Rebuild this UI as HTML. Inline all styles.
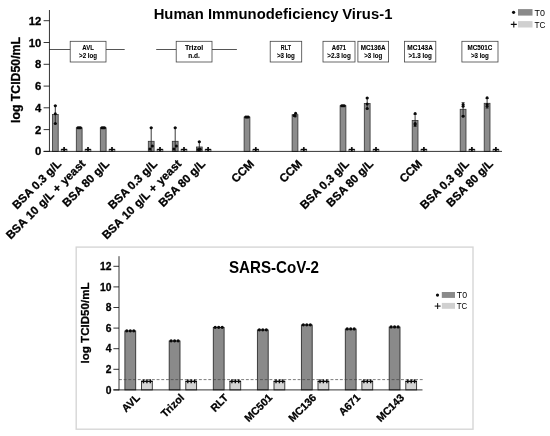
<!DOCTYPE html>
<html><head><meta charset="utf-8"><title>Figure</title>
<style>
html,body{margin:0;padding:0;background:#fff;}
svg{display:block;}
text{font-family:"Liberation Sans", sans-serif;fill:#000;}
.b{font-weight:bold;}
.e{stroke:#000;stroke-width:0.3px;}
.e2{stroke:#000;stroke-width:0.1px;}
</style></head><body>
<svg width="550" height="436" viewBox="0 0 550 436">
<rect x="0" y="0" width="550" height="436" fill="#ffffff"/>
<g id="hiv">
<text class="b" y="18.6" font-size="14.8"><tspan x="153.7">Human</tspan> <tspan x="207.9" letter-spacing="0.05">Immunodeficiency</tspan> <tspan x="342.2" letter-spacing="0.06">Virus-1</tspan></text>
<text class="b e" transform="translate(20.4,123) rotate(-90)" font-size="12.3" textLength="86" lengthAdjust="spacingAndGlyphs">log TCID50/mL</text>
<line x1="43.6" y1="151.4" x2="49.5" y2="151.4" stroke="#111" stroke-width="0.85"/>
<text class="b e" x="41.3" y="155.4" font-size="11.3" text-anchor="end">0</text>
<line x1="43.6" y1="129.6" x2="49.5" y2="129.6" stroke="#111" stroke-width="0.85"/>
<text class="b e" x="41.3" y="133.6" font-size="11.3" text-anchor="end">2</text>
<line x1="43.6" y1="107.8" x2="49.5" y2="107.8" stroke="#111" stroke-width="0.85"/>
<text class="b e" x="41.3" y="111.8" font-size="11.3" text-anchor="end">4</text>
<line x1="43.6" y1="86.1" x2="49.5" y2="86.1" stroke="#111" stroke-width="0.85"/>
<text class="b e" x="41.3" y="90.1" font-size="11.3" text-anchor="end">6</text>
<line x1="43.6" y1="64.3" x2="49.5" y2="64.3" stroke="#111" stroke-width="0.85"/>
<text class="b e" x="41.3" y="68.3" font-size="11.3" text-anchor="end">8</text>
<line x1="43.6" y1="42.5" x2="49.5" y2="42.5" stroke="#111" stroke-width="0.85"/>
<text class="b e" x="41.3" y="46.5" font-size="11.3" text-anchor="end">10</text>
<line x1="43.6" y1="20.7" x2="49.5" y2="20.7" stroke="#111" stroke-width="0.85"/>
<text class="b e" x="41.3" y="24.7" font-size="11.3" text-anchor="end">12</text>
<line x1="49.2" y1="49.5" x2="124.7" y2="49.5" stroke="#2a2a2a" stroke-width="0.8"/>
<rect x="70.2" y="41.3" width="35.8" height="20.7" fill="#fff" stroke="#444" stroke-width="0.8"/>
<text class="b e2" x="88.1" y="49.9" font-size="6.8" text-anchor="middle" textLength="11.6" lengthAdjust="spacingAndGlyphs">AVL</text>
<text class="b e2" x="88.1" y="58.4" font-size="6.8" text-anchor="middle" textLength="18.0" lengthAdjust="spacingAndGlyphs">&gt;2 log</text>
<line x1="156.2" y1="49.5" x2="236.9" y2="49.5" stroke="#2a2a2a" stroke-width="0.8"/>
<rect x="176.2" y="41.3" width="35.8" height="20.7" fill="#fff" stroke="#444" stroke-width="0.8"/>
<text class="b e2" x="194.1" y="49.9" font-size="6.8" text-anchor="middle" textLength="18.4" lengthAdjust="spacingAndGlyphs">Trizol</text>
<text class="b e2" x="194.1" y="58.4" font-size="6.8" text-anchor="middle" textLength="11.6" lengthAdjust="spacingAndGlyphs">n.d.</text>
<rect x="270.2" y="41.3" width="31.5" height="20.7" fill="#fff" stroke="#444" stroke-width="0.8"/>
<text class="b e2" x="285.9" y="49.9" font-size="6.8" text-anchor="middle" textLength="10.1" lengthAdjust="spacingAndGlyphs">RLT</text>
<text class="b e2" x="285.9" y="58.4" font-size="6.8" text-anchor="middle" textLength="18.0" lengthAdjust="spacingAndGlyphs">&gt;3 log</text>
<rect x="323.0" y="41.3" width="32.0" height="20.7" fill="#fff" stroke="#444" stroke-width="0.8"/>
<text class="b e2" x="339.0" y="49.9" font-size="6.8" text-anchor="middle" textLength="14.3" lengthAdjust="spacingAndGlyphs">A671</text>
<text class="b e2" x="339.0" y="58.4" font-size="6.8" text-anchor="middle" textLength="23.5" lengthAdjust="spacingAndGlyphs">&gt;2.3 log</text>
<rect x="357.9" y="41.3" width="30.7" height="20.7" fill="#fff" stroke="#444" stroke-width="0.8"/>
<text class="b e2" x="373.2" y="49.9" font-size="6.8" text-anchor="middle" textLength="24.9" lengthAdjust="spacingAndGlyphs">MC136A</text>
<text class="b e2" x="373.2" y="58.4" font-size="6.8" text-anchor="middle" textLength="18.0" lengthAdjust="spacingAndGlyphs">&gt;3 log</text>
<rect x="404.5" y="41.3" width="31.3" height="20.7" fill="#fff" stroke="#444" stroke-width="0.8"/>
<text class="b e2" x="420.1" y="49.9" font-size="6.8" text-anchor="middle" textLength="25.7" lengthAdjust="spacingAndGlyphs">MC143A</text>
<text class="b e2" x="420.1" y="58.4" font-size="6.8" text-anchor="middle" textLength="23.4" lengthAdjust="spacingAndGlyphs">&gt;1.3 log</text>
<rect x="461.9" y="41.3" width="36.1" height="20.7" fill="#fff" stroke="#444" stroke-width="0.8"/>
<text class="b e2" x="479.9" y="49.9" font-size="6.8" text-anchor="middle" textLength="24.8" lengthAdjust="spacingAndGlyphs">MC501C</text>
<text class="b e2" x="479.9" y="58.4" font-size="6.8" text-anchor="middle" textLength="18.0" lengthAdjust="spacingAndGlyphs">&gt;3 log</text>
<rect x="52.4" y="114.4" width="5.8" height="37.0" fill="#8c8c8c" stroke="#333" stroke-width="0.8"/>
<path d="M55.3 105.7V123.6M53.8 105.7h3M53.8 123.6h3" stroke="#222" stroke-width="0.9" fill="none"/>
<circle cx="55.3" cy="105.7" r="1.5" fill="#0a0a0a"/>
<circle cx="55.3" cy="113.8" r="1.5" fill="#0a0a0a"/>
<circle cx="55.3" cy="123.6" r="1.5" fill="#0a0a0a"/>
<rect x="61.2" y="149.3" width="5.8" height="2.1" fill="#d0d0d0" stroke="#333" stroke-width="0.7"/>
<path d="M61.3 149.5h5.6" stroke="#0a0a0a" stroke-width="1.3" fill="none"/>
<path d="M64.1 147.1v4.3" stroke="#0a0a0a" stroke-width="1.7" fill="none"/>
<rect x="76.3" y="127.8" width="5.8" height="23.6" fill="#8c8c8c" stroke="#333" stroke-width="0.8"/>
<circle cx="77.9" cy="127.8" r="1.5" fill="#0a0a0a"/>
<circle cx="79.2" cy="127.8" r="1.5" fill="#0a0a0a"/>
<circle cx="80.5" cy="127.8" r="1.5" fill="#0a0a0a"/>
<rect x="85.1" y="149.3" width="5.8" height="2.1" fill="#d0d0d0" stroke="#333" stroke-width="0.7"/>
<path d="M85.2 149.5h5.6" stroke="#0a0a0a" stroke-width="1.3" fill="none"/>
<path d="M88.0 147.1v4.3" stroke="#0a0a0a" stroke-width="1.7" fill="none"/>
<rect x="100.3" y="127.8" width="5.8" height="23.6" fill="#8c8c8c" stroke="#333" stroke-width="0.8"/>
<circle cx="101.9" cy="127.8" r="1.5" fill="#0a0a0a"/>
<circle cx="103.2" cy="127.8" r="1.5" fill="#0a0a0a"/>
<circle cx="104.5" cy="127.8" r="1.5" fill="#0a0a0a"/>
<rect x="109.1" y="149.3" width="5.8" height="2.1" fill="#d0d0d0" stroke="#333" stroke-width="0.7"/>
<path d="M109.2 149.5h5.6" stroke="#0a0a0a" stroke-width="1.3" fill="none"/>
<path d="M112.0 147.1v4.3" stroke="#0a0a0a" stroke-width="1.7" fill="none"/>
<rect x="148.3" y="141.3" width="5.8" height="10.1" fill="#8c8c8c" stroke="#333" stroke-width="0.8"/>
<path d="M151.2 127.8V151.4M149.7 127.8h3M149.7 151.4h3" stroke="#222" stroke-width="0.9" fill="none"/>
<circle cx="151.2" cy="127.8" r="1.5" fill="#0a0a0a"/>
<circle cx="152.4" cy="146.0" r="1.5" fill="#0a0a0a"/>
<circle cx="149.9" cy="149.0" r="1.5" fill="#0a0a0a"/>
<rect x="157.1" y="149.3" width="5.8" height="2.1" fill="#d0d0d0" stroke="#333" stroke-width="0.7"/>
<path d="M157.2 149.5h5.6" stroke="#0a0a0a" stroke-width="1.3" fill="none"/>
<path d="M160.0 147.1v4.3" stroke="#0a0a0a" stroke-width="1.7" fill="none"/>
<rect x="172.3" y="141.3" width="5.8" height="10.1" fill="#8c8c8c" stroke="#333" stroke-width="0.8"/>
<path d="M175.2 127.8V151.4M173.7 127.8h3M173.7 151.4h3" stroke="#222" stroke-width="0.9" fill="none"/>
<circle cx="175.2" cy="127.8" r="1.5" fill="#0a0a0a"/>
<circle cx="176.4" cy="146.0" r="1.5" fill="#0a0a0a"/>
<circle cx="173.9" cy="149.0" r="1.5" fill="#0a0a0a"/>
<rect x="181.1" y="149.3" width="5.8" height="2.1" fill="#d0d0d0" stroke="#333" stroke-width="0.7"/>
<path d="M181.2 149.5h5.6" stroke="#0a0a0a" stroke-width="1.3" fill="none"/>
<path d="M184.0 147.1v4.3" stroke="#0a0a0a" stroke-width="1.7" fill="none"/>
<rect x="196.4" y="147.0" width="5.8" height="4.4" fill="#8c8c8c" stroke="#333" stroke-width="0.8"/>
<path d="M199.3 141.8V151.4M197.8 141.8h3M197.8 151.4h3" stroke="#222" stroke-width="0.9" fill="none"/>
<circle cx="199.3" cy="141.8" r="1.5" fill="#0a0a0a"/>
<circle cx="200.3" cy="149.2" r="1.5" fill="#0a0a0a"/>
<circle cx="198.3" cy="149.5" r="1.5" fill="#0a0a0a"/>
<rect x="205.2" y="149.3" width="5.8" height="2.1" fill="#d0d0d0" stroke="#333" stroke-width="0.7"/>
<path d="M205.3 149.5h5.6" stroke="#0a0a0a" stroke-width="1.3" fill="none"/>
<path d="M208.1 147.1v4.3" stroke="#0a0a0a" stroke-width="1.7" fill="none"/>
<rect x="244.1" y="117.1" width="5.8" height="34.3" fill="#8c8c8c" stroke="#333" stroke-width="0.8"/>
<circle cx="245.7" cy="117.1" r="1.5" fill="#0a0a0a"/>
<circle cx="247.0" cy="117.1" r="1.5" fill="#0a0a0a"/>
<circle cx="248.3" cy="117.1" r="1.5" fill="#0a0a0a"/>
<rect x="252.9" y="149.3" width="5.8" height="2.1" fill="#d0d0d0" stroke="#333" stroke-width="0.7"/>
<path d="M253.0 149.5h5.6" stroke="#0a0a0a" stroke-width="1.3" fill="none"/>
<path d="M255.8 147.1v4.3" stroke="#0a0a0a" stroke-width="1.7" fill="none"/>
<rect x="292.1" y="114.7" width="5.8" height="36.7" fill="#8c8c8c" stroke="#333" stroke-width="0.8"/>
<circle cx="295.6" cy="113.3" r="1.5" fill="#0a0a0a"/>
<circle cx="294.0" cy="115.5" r="1.5" fill="#0a0a0a"/>
<circle cx="295.2" cy="116.0" r="1.5" fill="#0a0a0a"/>
<rect x="300.9" y="149.3" width="5.8" height="2.1" fill="#d0d0d0" stroke="#333" stroke-width="0.7"/>
<path d="M301.0 149.5h5.6" stroke="#0a0a0a" stroke-width="1.3" fill="none"/>
<path d="M303.8 147.1v4.3" stroke="#0a0a0a" stroke-width="1.7" fill="none"/>
<rect x="340.1" y="105.7" width="5.8" height="45.7" fill="#8c8c8c" stroke="#333" stroke-width="0.8"/>
<circle cx="341.7" cy="105.7" r="1.5" fill="#0a0a0a"/>
<circle cx="343.0" cy="105.7" r="1.5" fill="#0a0a0a"/>
<circle cx="344.3" cy="105.7" r="1.5" fill="#0a0a0a"/>
<rect x="348.9" y="149.3" width="5.8" height="2.1" fill="#d0d0d0" stroke="#333" stroke-width="0.7"/>
<path d="M349.0 149.5h5.6" stroke="#0a0a0a" stroke-width="1.3" fill="none"/>
<path d="M351.8 147.1v4.3" stroke="#0a0a0a" stroke-width="1.7" fill="none"/>
<rect x="364.3" y="103.5" width="5.8" height="47.9" fill="#8c8c8c" stroke="#333" stroke-width="0.8"/>
<path d="M367.2 98.0V108.9M365.7 98.0h3M365.7 108.9h3" stroke="#222" stroke-width="0.9" fill="none"/>
<circle cx="367.2" cy="98.0" r="1.5" fill="#0a0a0a"/>
<circle cx="367.2" cy="104.0" r="1.5" fill="#0a0a0a"/>
<circle cx="367.2" cy="108.4" r="1.5" fill="#0a0a0a"/>
<rect x="373.1" y="149.3" width="5.8" height="2.1" fill="#d0d0d0" stroke="#333" stroke-width="0.7"/>
<path d="M373.2 149.5h5.6" stroke="#0a0a0a" stroke-width="1.3" fill="none"/>
<path d="M376.0 147.1v4.3" stroke="#0a0a0a" stroke-width="1.7" fill="none"/>
<rect x="412.2" y="120.5" width="5.8" height="30.9" fill="#8c8c8c" stroke="#333" stroke-width="0.8"/>
<path d="M415.1 114.4V126.4M413.6 114.4h3M413.6 126.4h3" stroke="#222" stroke-width="0.9" fill="none"/>
<circle cx="415.1" cy="113.5" r="1.5" fill="#0a0a0a"/>
<circle cx="415.1" cy="123.6" r="1.5" fill="#0a0a0a"/>
<circle cx="415.1" cy="124.7" r="1.5" fill="#0a0a0a"/>
<rect x="421.0" y="149.3" width="5.8" height="2.1" fill="#d0d0d0" stroke="#333" stroke-width="0.7"/>
<path d="M421.1 149.5h5.6" stroke="#0a0a0a" stroke-width="1.3" fill="none"/>
<path d="M423.9 147.1v4.3" stroke="#0a0a0a" stroke-width="1.7" fill="none"/>
<rect x="460.2" y="109.3" width="5.8" height="42.1" fill="#8c8c8c" stroke="#333" stroke-width="0.8"/>
<path d="M463.1 102.7V115.8M461.6 102.7h3M461.6 115.8h3" stroke="#222" stroke-width="0.9" fill="none"/>
<circle cx="463.1" cy="104.6" r="1.5" fill="#0a0a0a"/>
<circle cx="463.1" cy="106.2" r="1.5" fill="#0a0a0a"/>
<circle cx="463.1" cy="116.2" r="1.5" fill="#0a0a0a"/>
<rect x="469.0" y="149.3" width="5.8" height="2.1" fill="#d0d0d0" stroke="#333" stroke-width="0.7"/>
<path d="M469.1 149.5h5.6" stroke="#0a0a0a" stroke-width="1.3" fill="none"/>
<path d="M471.9 147.1v4.3" stroke="#0a0a0a" stroke-width="1.7" fill="none"/>
<rect x="484.2" y="103.3" width="5.8" height="48.1" fill="#8c8c8c" stroke="#333" stroke-width="0.8"/>
<path d="M487.1 98.5V108.1M485.6 98.5h3M485.6 108.1h3" stroke="#222" stroke-width="0.9" fill="none"/>
<circle cx="487.1" cy="97.8" r="1.5" fill="#0a0a0a"/>
<circle cx="487.1" cy="104.6" r="1.5" fill="#0a0a0a"/>
<circle cx="487.1" cy="106.2" r="1.5" fill="#0a0a0a"/>
<rect x="493.0" y="149.3" width="5.8" height="2.1" fill="#d0d0d0" stroke="#333" stroke-width="0.7"/>
<path d="M493.1 149.5h5.6" stroke="#0a0a0a" stroke-width="1.3" fill="none"/>
<path d="M495.9 147.1v4.3" stroke="#0a0a0a" stroke-width="1.7" fill="none"/>
<line x1="49.45" y1="10" x2="49.45" y2="151.8" stroke="#111" stroke-width="0.85"/>
<line x1="43.6" y1="151.4" x2="502" y2="151.4" stroke="#111" stroke-width="0.85"/>
<text class="b e" transform="translate(62.0,164.6) rotate(-45)" font-size="11.55" text-anchor="end">BSA 0.3 g/L</text>
<text class="b e" transform="translate(85.9,164.6) rotate(-45)" font-size="11.55" text-anchor="end" word-spacing="0.85">BSA 10 g/L + yeast</text>
<text class="b e" transform="translate(109.9,164.6) rotate(-45)" font-size="11.55" text-anchor="end">BSA 80 g/L</text>
<text class="b e" transform="translate(157.9,164.6) rotate(-45)" font-size="11.55" text-anchor="end">BSA 0.3 g/L</text>
<text class="b e" transform="translate(181.9,164.6) rotate(-45)" font-size="11.55" text-anchor="end" word-spacing="0.85">BSA 10 g/L + yeast</text>
<text class="b e" transform="translate(206.0,164.6) rotate(-45)" font-size="11.55" text-anchor="end">BSA 80 g/L</text>
<text class="b e" transform="translate(254.7,164.6) rotate(-45)" font-size="11.55" text-anchor="end">CCM</text>
<text class="b e" transform="translate(302.7,164.6) rotate(-45)" font-size="11.55" text-anchor="end">CCM</text>
<text class="b e" transform="translate(349.7,164.6) rotate(-45)" font-size="11.55" text-anchor="end">BSA 0.3 g/L</text>
<text class="b e" transform="translate(373.9,164.6) rotate(-45)" font-size="11.55" text-anchor="end">BSA 80 g/L</text>
<text class="b e" transform="translate(422.8,164.6) rotate(-45)" font-size="11.55" text-anchor="end">CCM</text>
<text class="b e" transform="translate(469.8,164.6) rotate(-45)" font-size="11.55" text-anchor="end">BSA 0.3 g/L</text>
<text class="b e" transform="translate(493.8,164.6) rotate(-45)" font-size="11.55" text-anchor="end">BSA 80 g/L</text>
<circle cx="513.6" cy="12.3" r="1.6" fill="#0a0a0a"/>
<rect x="518" y="9.1" width="14.5" height="6.5" fill="#8a8a8a"/>
<text x="534.5" y="15.5" font-size="9.5" textLength="10.4" lengthAdjust="spacingAndGlyphs">T0</text>
<path d="M510.8 24.4h6M513.8 21.4v6" stroke="#0a0a0a" stroke-width="1.1" fill="none"/>
<rect x="518" y="21.1" width="14.5" height="6.4" fill="#d0d0d0"/>
<text x="534.5" y="27.5" font-size="9.5" textLength="11" lengthAdjust="spacingAndGlyphs">TC</text>
</g>
<g id="sars">
<rect x="76.2" y="247.1" width="396.8" height="182.1" fill="#fff" stroke="#d6d6d6" stroke-width="1.4"/>
<text class="b" x="229" y="273" font-size="16.2" textLength="90" lengthAdjust="spacingAndGlyphs">SARS-CoV-2</text>
<text class="b e" transform="translate(89.4,363.5) rotate(-90)" font-size="11.5" textLength="81" lengthAdjust="spacingAndGlyphs">log TCID50/mL</text>
<line x1="113.4" y1="389.9" x2="119.0" y2="389.9" stroke="#111" stroke-width="0.85"/>
<text class="b e" x="111.5" y="393.6" font-size="10.3" text-anchor="end">0</text>
<line x1="113.4" y1="369.3" x2="119.0" y2="369.3" stroke="#111" stroke-width="0.85"/>
<text class="b e" x="111.5" y="373.0" font-size="10.3" text-anchor="end">2</text>
<line x1="113.4" y1="348.7" x2="119.0" y2="348.7" stroke="#111" stroke-width="0.85"/>
<text class="b e" x="111.5" y="352.4" font-size="10.3" text-anchor="end">4</text>
<line x1="113.4" y1="328.1" x2="119.0" y2="328.1" stroke="#111" stroke-width="0.85"/>
<text class="b e" x="111.5" y="331.8" font-size="10.3" text-anchor="end">6</text>
<line x1="113.4" y1="307.5" x2="119.0" y2="307.5" stroke="#111" stroke-width="0.85"/>
<text class="b e" x="111.5" y="311.2" font-size="10.3" text-anchor="end">8</text>
<line x1="113.4" y1="286.9" x2="119.0" y2="286.9" stroke="#111" stroke-width="0.85"/>
<text class="b e" x="111.5" y="290.6" font-size="10.3" text-anchor="end">10</text>
<line x1="113.4" y1="266.3" x2="119.0" y2="266.3" stroke="#111" stroke-width="0.85"/>
<text class="b e" x="111.5" y="270.0" font-size="10.3" text-anchor="end">12</text>
<rect x="124.9" y="331.0" width="10.8" height="58.9" fill="#8a8a8a" stroke="#2e2e2e" stroke-width="0.9"/>
<circle cx="126.8" cy="330.8" r="1.6" fill="#0a0a0a"/>
<circle cx="130.3" cy="330.8" r="1.6" fill="#0a0a0a"/>
<circle cx="133.8" cy="330.8" r="1.6" fill="#0a0a0a"/>
<rect x="141.5" y="381.5" width="10.8" height="8.4" fill="#d4d4d4" stroke="#2e2e2e" stroke-width="0.9"/>
<path d="M141.2 381.3h11.4" stroke="#0a0a0a" stroke-width="1.3" fill="none"/>
<path d="M143.5 379.3v4" stroke="#0a0a0a" stroke-width="1.4" fill="none"/>
<path d="M146.9 379.3v4" stroke="#0a0a0a" stroke-width="1.4" fill="none"/>
<path d="M150.3 379.3v4" stroke="#0a0a0a" stroke-width="1.4" fill="none"/>
<rect x="169.2" y="341.0" width="10.8" height="48.9" fill="#8a8a8a" stroke="#2e2e2e" stroke-width="0.9"/>
<circle cx="171.1" cy="340.8" r="1.6" fill="#0a0a0a"/>
<circle cx="174.6" cy="340.8" r="1.6" fill="#0a0a0a"/>
<circle cx="178.1" cy="340.8" r="1.6" fill="#0a0a0a"/>
<rect x="185.8" y="381.5" width="10.8" height="8.4" fill="#d4d4d4" stroke="#2e2e2e" stroke-width="0.9"/>
<path d="M185.5 381.3h11.4" stroke="#0a0a0a" stroke-width="1.3" fill="none"/>
<path d="M187.8 379.3v4" stroke="#0a0a0a" stroke-width="1.4" fill="none"/>
<path d="M191.2 379.3v4" stroke="#0a0a0a" stroke-width="1.4" fill="none"/>
<path d="M194.6 379.3v4" stroke="#0a0a0a" stroke-width="1.4" fill="none"/>
<rect x="213.3" y="327.5" width="10.8" height="62.4" fill="#8a8a8a" stroke="#2e2e2e" stroke-width="0.9"/>
<circle cx="215.2" cy="327.3" r="1.6" fill="#0a0a0a"/>
<circle cx="218.7" cy="327.3" r="1.6" fill="#0a0a0a"/>
<circle cx="222.2" cy="327.3" r="1.6" fill="#0a0a0a"/>
<rect x="229.9" y="381.5" width="10.8" height="8.4" fill="#d4d4d4" stroke="#2e2e2e" stroke-width="0.9"/>
<path d="M229.6 381.3h11.4" stroke="#0a0a0a" stroke-width="1.3" fill="none"/>
<path d="M231.9 379.3v4" stroke="#0a0a0a" stroke-width="1.4" fill="none"/>
<path d="M235.3 379.3v4" stroke="#0a0a0a" stroke-width="1.4" fill="none"/>
<path d="M238.7 379.3v4" stroke="#0a0a0a" stroke-width="1.4" fill="none"/>
<rect x="257.4" y="330.0" width="10.8" height="59.9" fill="#8a8a8a" stroke="#2e2e2e" stroke-width="0.9"/>
<circle cx="259.3" cy="329.8" r="1.6" fill="#0a0a0a"/>
<circle cx="262.8" cy="329.8" r="1.6" fill="#0a0a0a"/>
<circle cx="266.3" cy="329.8" r="1.6" fill="#0a0a0a"/>
<rect x="274.0" y="381.5" width="10.8" height="8.4" fill="#d4d4d4" stroke="#2e2e2e" stroke-width="0.9"/>
<path d="M273.7 381.3h11.4" stroke="#0a0a0a" stroke-width="1.3" fill="none"/>
<path d="M276.0 379.3v4" stroke="#0a0a0a" stroke-width="1.4" fill="none"/>
<path d="M279.4 379.3v4" stroke="#0a0a0a" stroke-width="1.4" fill="none"/>
<path d="M282.8 379.3v4" stroke="#0a0a0a" stroke-width="1.4" fill="none"/>
<rect x="301.4" y="325.0" width="10.8" height="64.9" fill="#8a8a8a" stroke="#2e2e2e" stroke-width="0.9"/>
<circle cx="303.3" cy="324.8" r="1.6" fill="#0a0a0a"/>
<circle cx="306.8" cy="324.8" r="1.6" fill="#0a0a0a"/>
<circle cx="310.3" cy="324.8" r="1.6" fill="#0a0a0a"/>
<rect x="318.0" y="381.5" width="10.8" height="8.4" fill="#d4d4d4" stroke="#2e2e2e" stroke-width="0.9"/>
<path d="M317.7 381.3h11.4" stroke="#0a0a0a" stroke-width="1.3" fill="none"/>
<path d="M320.0 379.3v4" stroke="#0a0a0a" stroke-width="1.4" fill="none"/>
<path d="M323.4 379.3v4" stroke="#0a0a0a" stroke-width="1.4" fill="none"/>
<path d="M326.8 379.3v4" stroke="#0a0a0a" stroke-width="1.4" fill="none"/>
<rect x="345.3" y="329.1" width="10.8" height="60.8" fill="#8a8a8a" stroke="#2e2e2e" stroke-width="0.9"/>
<circle cx="347.2" cy="328.9" r="1.6" fill="#0a0a0a"/>
<circle cx="350.7" cy="328.9" r="1.6" fill="#0a0a0a"/>
<circle cx="354.2" cy="328.9" r="1.6" fill="#0a0a0a"/>
<rect x="361.9" y="381.5" width="10.8" height="8.4" fill="#d4d4d4" stroke="#2e2e2e" stroke-width="0.9"/>
<path d="M361.6 381.3h11.4" stroke="#0a0a0a" stroke-width="1.3" fill="none"/>
<path d="M363.9 379.3v4" stroke="#0a0a0a" stroke-width="1.4" fill="none"/>
<path d="M367.3 379.3v4" stroke="#0a0a0a" stroke-width="1.4" fill="none"/>
<path d="M370.7 379.3v4" stroke="#0a0a0a" stroke-width="1.4" fill="none"/>
<rect x="389.2" y="327.1" width="10.8" height="62.8" fill="#8a8a8a" stroke="#2e2e2e" stroke-width="0.9"/>
<circle cx="391.1" cy="326.9" r="1.6" fill="#0a0a0a"/>
<circle cx="394.6" cy="326.9" r="1.6" fill="#0a0a0a"/>
<circle cx="398.1" cy="326.9" r="1.6" fill="#0a0a0a"/>
<rect x="405.8" y="381.5" width="10.8" height="8.4" fill="#d4d4d4" stroke="#2e2e2e" stroke-width="0.9"/>
<path d="M405.5 381.3h11.4" stroke="#0a0a0a" stroke-width="1.3" fill="none"/>
<path d="M407.8 379.3v4" stroke="#0a0a0a" stroke-width="1.4" fill="none"/>
<path d="M411.2 379.3v4" stroke="#0a0a0a" stroke-width="1.4" fill="none"/>
<path d="M414.6 379.3v4" stroke="#0a0a0a" stroke-width="1.4" fill="none"/>
<line x1="119.0" y1="379.6" x2="424.5" y2="379.6" stroke="#444" stroke-width="0.7" stroke-dasharray="2.9 1.8"/>
<line x1="119.0" y1="256.2" x2="119.0" y2="390.3" stroke="#111" stroke-width="0.85"/>
<line x1="113.4" y1="389.9" x2="422.5" y2="389.9" stroke="#111" stroke-width="0.85"/>
<text class="b e" transform="translate(140.5,398.4) rotate(-45)" font-size="10.6" text-anchor="end">AVL</text>
<text class="b e" transform="translate(184.8,398.4) rotate(-45)" font-size="10.6" text-anchor="end">Trizol</text>
<text class="b e" transform="translate(228.9,398.4) rotate(-45)" font-size="10.6" text-anchor="end">RLT</text>
<text class="b e" transform="translate(273.0,398.4) rotate(-45)" font-size="10.6" text-anchor="end">MC501</text>
<text class="b e" transform="translate(317.0,398.4) rotate(-45)" font-size="10.6" text-anchor="end">MC136</text>
<text class="b e" transform="translate(360.9,398.4) rotate(-45)" font-size="10.6" text-anchor="end">A671</text>
<text class="b e" transform="translate(404.8,398.4) rotate(-45)" font-size="10.6" text-anchor="end">MC143</text>
<circle cx="437.5" cy="295.1" r="1.6" fill="#0a0a0a"/>
<rect x="441.8" y="292" width="13.2" height="5.9" fill="#8a8a8a"/>
<text x="456.8" y="298.2" font-size="8.7" textLength="10.2" lengthAdjust="spacingAndGlyphs">T0</text>
<path d="M434.7 306.1h5.9M437.65 303.1v5.9" stroke="#0a0a0a" stroke-width="1" fill="none"/>
<rect x="441.8" y="302.9" width="13.2" height="5.9" fill="#d0d0d0"/>
<text x="456.8" y="309.1" font-size="8.7" textLength="10.5" lengthAdjust="spacingAndGlyphs">TC</text>
</g>
</svg>
</body></html>
